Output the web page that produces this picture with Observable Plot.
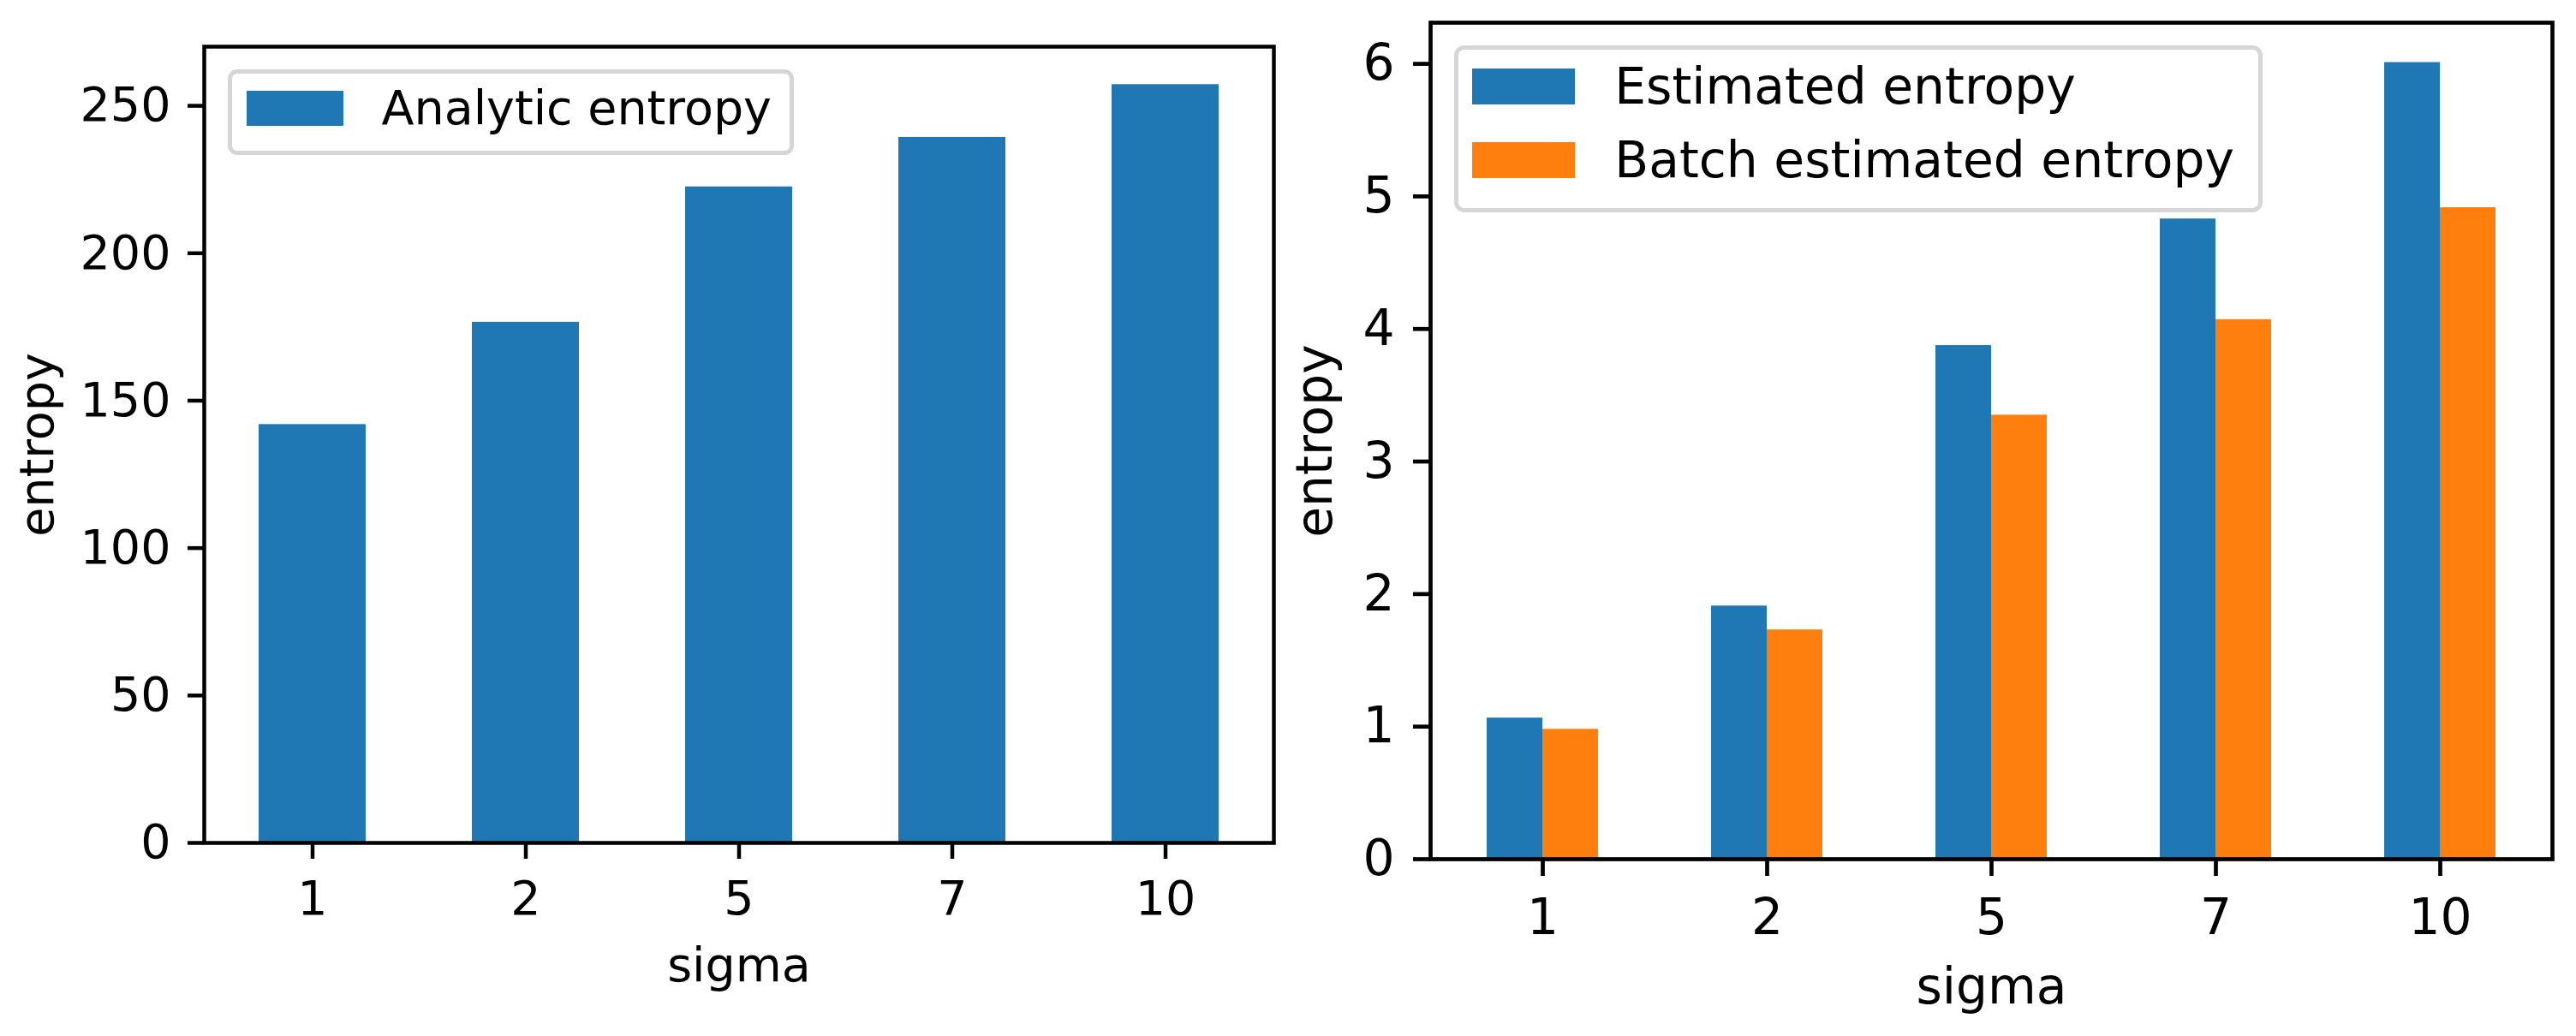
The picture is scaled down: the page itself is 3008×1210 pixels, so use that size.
<!DOCTYPE html>
<html>
<head>
<meta charset="utf-8">
<script src="https://cdn.jsdelivr.net/npm/d3@7"></script>
<script src="https://cdn.jsdelivr.net/npm/@observablehq/plot@0.6"></script>
<style>
html, body { margin: 0; padding: 0; background: #fff; }
#wrap { position: relative; width: 3008px; height: 1210px; overflow: hidden; font-family: "DejaVu Sans", sans-serif; }
.panel { position: absolute; top: 0; }
.panel svg { display: block; overflow: visible; }
.legend { position: absolute; box-sizing: border-box; border-style: solid; border-color: #d6d6d6; background: rgba(255,255,255,0.8); }
.row { display: flex; align-items: center; white-space: nowrap; color: #000; }
.sw { flex: none; }
</style>
</head>
<body>
<div id="wrap"></div>
<script>
// ---- data ----
const sigmas = ["1", "2", "5", "7", "10"];
const analyticEntropy = [141.9, 176.6, 222.5, 239.3, 257.2];
const estimatedEntropy = [1.065, 1.91, 3.875, 4.83, 6.01];
const batchEstimatedEntropy = [0.98, 1.73, 3.35, 4.07, 4.915];
const leftSeries = ["Analytic entropy"];
const rightSeries = ["Estimated entropy", "Batch estimated entropy"];
const leftTicks = [0, 50, 100, 150, 200, 250];
const rightTicks = [0, 1, 2, 3, 4, 5, 6];
const palette = ["#1f77b4", "#ff7f0e"];

const wrap = document.getElementById("wrap");
const intFormat = d3.format("d");

// ---- left chart ----
const leftData = sigmas.map((s, i) => ({sigma: s, series: leftSeries[0], value: analyticEntropy[i]}));
const left = Plot.plot({
  width: 1500, height: 1210,
  marginLeft: 238, marginRight: 13, marginTop: 54, marginBottom: 226,
  style: {fontFamily: "DejaVu Sans", fontSize: "55.5px", background: "transparent", color: "#000"},
  x: {domain: sigmas, paddingInner: 0.5, paddingOuter: 0.25},
  y: {domain: [0, d3.max(analyticEntropy) * 1.05]},
  color: {domain: leftSeries, range: [palette[0]]},
  marks: [
    Plot.barY(leftData, {x: "sigma", y: "value", fill: "series"}),
    Plot.axisY(leftTicks, {tickSize: 19, tickPadding: 20, strokeWidth: 4.5, tickFormat: intFormat, label: "entropy", labelAnchor: "center", labelOffset: 216, labelArrow: "none"}),
    Plot.axisX({tickSize: 19, tickPadding: 25, strokeWidth: 4.5, label: "sigma", labelAnchor: "center", labelOffset: 161, labelArrow: "none"}),
    Plot.frame({stroke: "black", strokeWidth: 4.5})
  ]
});
const lp = document.createElement("div");
lp.className = "panel"; lp.style.left = "0px"; lp.style.width = "1500px";
lp.appendChild(left);
wrap.appendChild(lp);

// ---- right chart ----
const rightData = sigmas.flatMap((s, i) => [
  {sigma: s, series: rightSeries[0], value: estimatedEntropy[i]},
  {sigma: s, series: rightSeries[1], value: batchEstimatedEntropy[i]}
]);
const right = Plot.plot({
  width: 1508, height: 1210,
  marginLeft: 169, marginRight: 27, marginTop: 26, marginBottom: 207,
  style: {fontFamily: "DejaVu Sans", fontSize: "58.3px", background: "transparent", color: "#000"},
  fx: {domain: sigmas, paddingInner: 0, paddingOuter: 0},
  x: {domain: rightSeries, paddingInner: 0, paddingOuter: 1, axis: null},
  y: {domain: [0, d3.max(estimatedEntropy) * 1.05]},
  color: {domain: rightSeries, range: palette},
  marks: [
    Plot.barY(rightData, {fx: "sigma", x: "series", y: "value", fill: "series"}),
    Plot.axisY(rightTicks, {tickSize: 20, tickPadding: 22, strokeWidth: 4.7, tickFormat: intFormat, label: "entropy", labelAnchor: "center", labelOffset: 157, labelArrow: "none"}),
    Plot.axisFx({anchor: "bottom", tickSize: 20, tickPadding: 26, strokeWidth: 4.7, label: "sigma", labelAnchor: "center", labelOffset: 168, labelArrow: "none"}),
    Plot.frame({facet: "super", stroke: "black", strokeWidth: 4.7})
  ]
});
const rp = document.createElement("div");
rp.className = "panel"; rp.style.left = "1500px"; rp.style.width = "1508px";
rp.appendChild(right);
wrap.appendChild(rp);

// ---- legends (inside axes, upper left) ----
function makeLegend(plot, cfg) {
  const scale = plot.scale("color");
  const box = document.createElement("div");
  box.className = "legend";
  Object.assign(box.style, {
    left: cfg.left + "px", top: cfg.top + "px", width: cfg.width + "px", height: cfg.height + "px",
    borderWidth: cfg.border + "px", borderRadius: cfg.radius + "px",
    paddingLeft: cfg.padLeft + "px", paddingTop: cfg.padTop + "px"
  });
  scale.domain.forEach((name, i) => {
    const row = document.createElement("div");
    row.className = "row";
    row.style.height = cfg.rowHeight + "px";
    row.style.fontSize = cfg.fontSize + "px";
    row.style.lineHeight = cfg.rowHeight + "px";
    const sw = document.createElement("div");
    sw.className = "sw";
    Object.assign(sw.style, {width: cfg.swW + "px", height: cfg.swH + "px", background: scale.range[i], marginRight: cfg.gap + "px"});
    const t = document.createElement("span");
    t.textContent = name;
    row.appendChild(sw); row.appendChild(t);
    box.appendChild(row);
  });
  wrap.appendChild(box);
}
makeLegend(left, {left: 266, top: 81, width: 661, height: 100, border: 5.5, radius: 11, padLeft: 16.5, padTop: 8,
  rowHeight: 64, fontSize: 55.5, swW: 113, swH: 41, gap: 45});
makeLegend(right, {left: 1698, top: 53, width: 944, height: 195, border: 5.8, radius: 11.7, padLeft: 16.2, padTop: 0.2,
  rowHeight: 86, fontSize: 58.3, swW: 120, swH: 42, gap: 46});
</script>
</body>
</html>
